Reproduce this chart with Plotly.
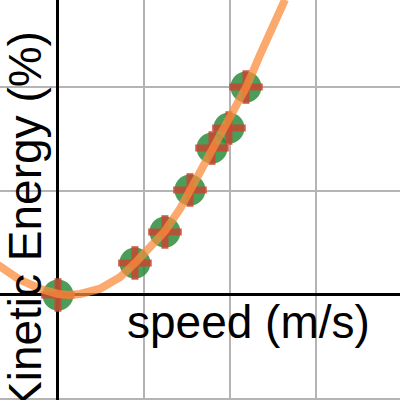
import plotly.graph_objects as go

# measured data points (speed, kinetic energy), in grid units
speed = [0.0, 0.895, 1.244, 1.535, 1.791, 1.988, 2.186]
energy = [0.0, 0.308, 0.606, 1.01, 1.413, 1.606, 2.0]

# trend curve
curve_x = [-0.70, -0.45, -0.21, 0.0, 0.13, 0.26, 0.49, 0.72, 0.90, 1.07, 1.24, 1.42, 1.54, 1.70, 1.79, 1.99, 2.19, 2.35, 2.52, 2.64]
curve_y = [0.29, 0.15, 0.06, 0.01, 0.0, 0.01, 0.06, 0.17, 0.31, 0.45, 0.61, 0.83, 1.01, 1.24, 1.39, 1.68, 2.00, 2.31, 2.62, 2.84]

fig = go.Figure()
fig.add_trace(go.Scatter(x=speed, y=energy, mode="markers",
                         marker=dict(size=31, color="rgba(45,140,60,0.85)", line=dict(width=0))))
fig.add_trace(go.Scatter(x=speed, y=energy, mode="markers",
                         marker=dict(symbol="line-ns", size=24, line=dict(width=7, color="rgba(200,70,50,0.85)"))))
fig.add_trace(go.Scatter(x=speed, y=energy, mode="markers",
                         marker=dict(symbol="line-ew", size=24, line=dict(width=7, color="rgba(200,70,50,0.85)"))))
fig.add_trace(go.Scatter(x=curve_x, y=curve_y, mode="lines",
                         line=dict(color="rgba(250,140,60,0.75)", width=8)))

axis_common = dict(showgrid=True, gridcolor="#b4b4b4", gridwidth=1.5, dtick=1,
                   zeroline=True, zerolinecolor="black", zerolinewidth=3,
                   showticklabels=False, ticks="", fixedrange=True)
fig.update_xaxes(range=[-0.674, 3.977], **axis_common)
fig.update_yaxes(range=[-1.01, 2.837], **axis_common)

fig.add_annotation(text="speed (m/s)", x=248/400, y=1-322/400, xref="paper", yref="paper",
                   xanchor="center", yanchor="middle", showarrow=False,
                   font=dict(size=46, color="black", family="Liberation Sans"))
fig.add_annotation(text="Kinetic Energy (%)", x=25/400, y=1-222/400, xref="paper", yref="paper",
                   textangle=-90, showarrow=False, xanchor="center", yanchor="middle",
                   font=dict(size=46, color="black", family="Liberation Sans"))

fig.update_layout(width=400, height=400, margin=dict(l=0, r=0, t=0, b=0),
                  showlegend=False, plot_bgcolor="white", paper_bgcolor="white")

fig.write_html("out.html", config={"displayModeBar": False},
               post_script="document.body.style.margin='0';")
